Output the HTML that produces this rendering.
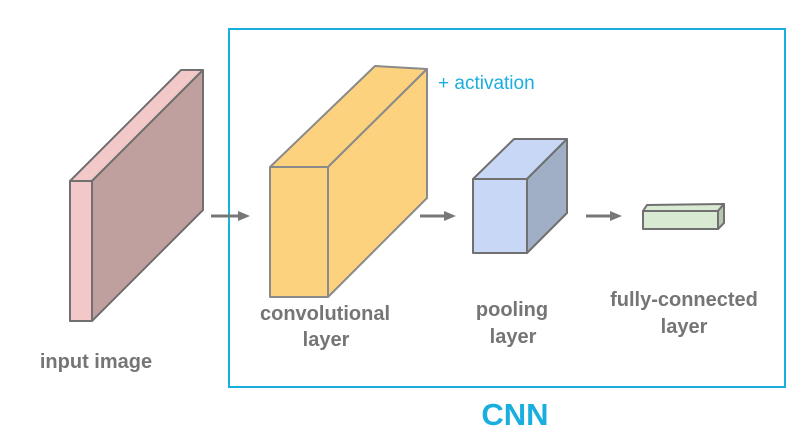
<!DOCTYPE html>
<html><head><style>
html,body{margin:0;padding:0;background:#fff;}
svg{display:block;}
text{font-family:"Liberation Sans",Arial,sans-serif;}
</style></head><body>
<svg width="808" height="446" viewBox="0 0 808 446" xmlns="http://www.w3.org/2000/svg">
<rect x="229" y="29" width="556" height="358" fill="none" stroke="#1aaedf" stroke-width="2"/>
<g stroke="#707070" stroke-width="2" stroke-linejoin="round">
<!-- input image -->
<polygon points="70,181 181,70 203,70 92,181" fill="#f2c8c8"/>
<polygon points="92,181 203,70 203,210 92,321" fill="#c09f9f"/>
<rect x="70" y="181" width="22" height="140" fill="#f2c8c8"/>
<!-- conv -->
<polygon points="270,167 375,66 427,69 328,167" fill="#fdd27e" stroke="#8a8a8a"/>
<polygon points="328,167 427,69 427,198 328,297" fill="#fdd27e" stroke="#8a8a8a"/>
<rect x="270" y="167" width="58" height="130" fill="#fdd27e" stroke="#8a8a8a"/>
<!-- pool -->
<polygon points="473,179 514,139 567,139 527,179" fill="#c7d7f5"/>
<polygon points="527,179 567,139 567,213 527,253" fill="#a0aec6"/>
<rect x="473" y="179" width="54" height="74" fill="#c7d7f5"/>
<!-- fc -->
<polygon points="643,211 647,205 724,204 718,211" fill="#d8ead2"/>
<polygon points="718,211 724,204 724,223 718,229" fill="#b7c6b0"/>
<rect x="643" y="211" width="75" height="18" fill="#d8ead2"/>
</g>
<g stroke="#777" stroke-width="3" fill="#777">
<line x1="211" y1="216" x2="240" y2="216"/><polygon points="238,211 250,216 238,221" stroke="none"/>
<line x1="420" y1="216" x2="446" y2="216"/><polygon points="444,211 456,216 444,221" stroke="none"/>
<line x1="586" y1="216" x2="612" y2="216"/><polygon points="610,211 622,216 610,221" stroke="none"/>
</g>
<g fill="#757575" font-weight="bold" font-size="20" text-anchor="middle">
<text x="325" y="320">convolutional</text>
<text x="326" y="346">layer</text>
<text x="512" y="316">pooling</text>
<text x="513" y="343">layer</text>
<text x="684" y="306">fully-connected</text>
<text x="684" y="333">layer</text>
<text x="96" y="368">input image</text>
</g>
<text x="438" y="89" font-size="19" fill="#1aaedf">+ activation</text>
<text x="515" y="425" font-size="31" font-weight="bold" fill="#1aaedf" text-anchor="middle">CNN</text>
</svg>
</body></html>
